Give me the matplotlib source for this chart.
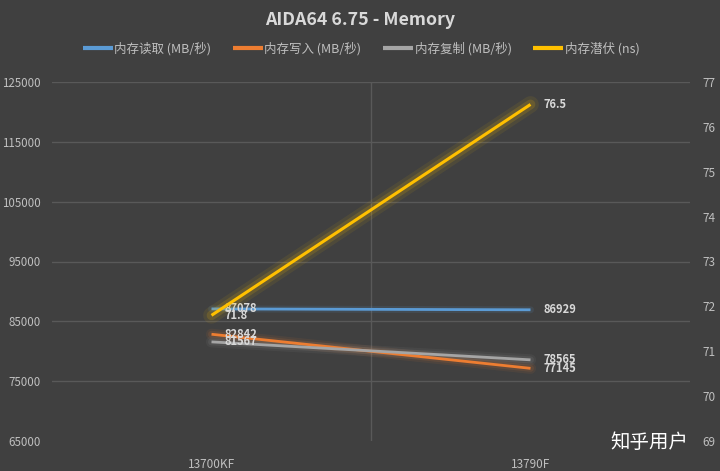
import matplotlib
matplotlib.use("Agg")
import matplotlib.pyplot as plt

plt.rcParams['font.family'] = ['Noto Sans CJK SC', 'DejaVu Sans']

categories = ["13700KF", "13790F"]
read_mb = [87078, 86929]
write_mb = [82842, 77145]
copy_mb = [81567, 78565]
latency_ns = [71.8, 76.5]
read_labels = ["87078", "86929"]
write_labels = ["82842", "77145"]
copy_labels = ["81567", "78565"]
latency_labels = ["71.8", "76.5"]
left_ticks = [65000, 75000, 85000, 95000, 105000, 115000, 125000]
right_ticks = [69, 70, 71, 72, 73, 74, 75, 76, 77]
legend_names = ["内存读取 (MB/秒)", "内存写入 (MB/秒)", "内存复制 (MB/秒)", "内存潜伏 (ns)"]
title = "AIDA64 6.75 - Memory"

BG = "#404040"
GRID = "#595959"
TXT = "#bfbfbf"
LBL = "#d9d9d9"
colors = ["#5b9bd5", "#ed7d31", "#a5a5a5", "#ffc000"]

fig = plt.figure(figsize=(7.2, 4.71), dpi=100, facecolor=BG)
ax = fig.add_axes([52/720, 1-441/471, 638/720, 359/471], facecolor=BG)
ax2 = ax.twinx()
ax2.set_facecolor("none")

x = [0.5, 1.5]
ax.set_xlim(0, 2)
ax.set_ylim(65000, 125000)
ax2.set_ylim(69, 77)

for a in (ax, ax2):
    for s in a.spines.values():
        s.set_visible(False)

ax.set_yticks(left_ticks)
ax.set_yticklabels([str(t) for t in left_ticks])
ax2.set_yticks(right_ticks)
ax2.set_yticklabels([str(t) for t in right_ticks])
ax.set_xticks(x)
ax.set_xticklabels(categories)
ax.tick_params(axis='y', length=0, pad=8, labelsize=8.3, labelcolor=TXT)
ax.tick_params(axis='x', length=0, pad=12, labelsize=8.5, labelcolor=TXT)
ax2.tick_params(axis='y', length=0, pad=9, labelsize=8.5, labelcolor=TXT)

for t in left_ticks[1:]:
    ax.axhline(t, color=GRID, lw=1, zorder=0)
ax.axvline(1.0, color=GRID, lw=1, zorder=0)

def glow_line(a, xs, ys, c, lw=2, glow=(7,), alphas=(0.12,)):
    for gw, al in zip(glow, alphas):
        a.plot(xs, ys, color=c, lw=gw, alpha=al, solid_capstyle='round', zorder=2)
    return a.plot(xs, ys, color=c, lw=lw, solid_capstyle='butt', zorder=3)[0]

h1 = glow_line(ax, x, read_mb, colors[0], glow=(5,), alphas=(0.12,))
h2 = glow_line(ax, x, write_mb, colors[1], glow=(8, 5), alphas=(0.08, 0.12))
h3 = glow_line(ax, x, copy_mb, colors[2], glow=(8, 5), alphas=(0.08, 0.12))
h4 = glow_line(ax2, x, latency_ns, colors[3], lw=2.2, glow=(12, 7), alphas=(0.08, 0.15))

def labels(a, ys, texts):
    for xi, yi, t in zip(x, ys, texts):
        a.annotate(t, (xi, yi), xytext=(9.5, 0), textcoords='offset points',
                   ha='left', va='center', fontsize=8, fontweight='bold',
                   color=LBL, zorder=5)

labels(ax, read_mb, read_labels)
labels(ax, write_mb, write_labels)
labels(ax, copy_mb, copy_labels)
labels(ax2, latency_ns, latency_labels)

fig.text(0.5, 1-20/471, title, ha='center', va='center', fontsize=12.8,
         fontweight='bold', color=LBL)

leg = fig.legend([h1, h2, h3, h4], legend_names, loc='center',
                 bbox_to_anchor=(361/720, 1-49/471), ncol=4, frameon=False,
                 fontsize=9, labelcolor=TXT, handlelength=2.4,
                 handletextpad=0.15, columnspacing=1.7)
for lh in leg.get_lines():
    lh.set_linewidth(3)

fig.text(688/720, 1-443/471, "知乎用户", ha='right', va='center',
         fontsize=14, color="#ffffff")

fig.savefig("out.png", dpi=100, facecolor=BG)
